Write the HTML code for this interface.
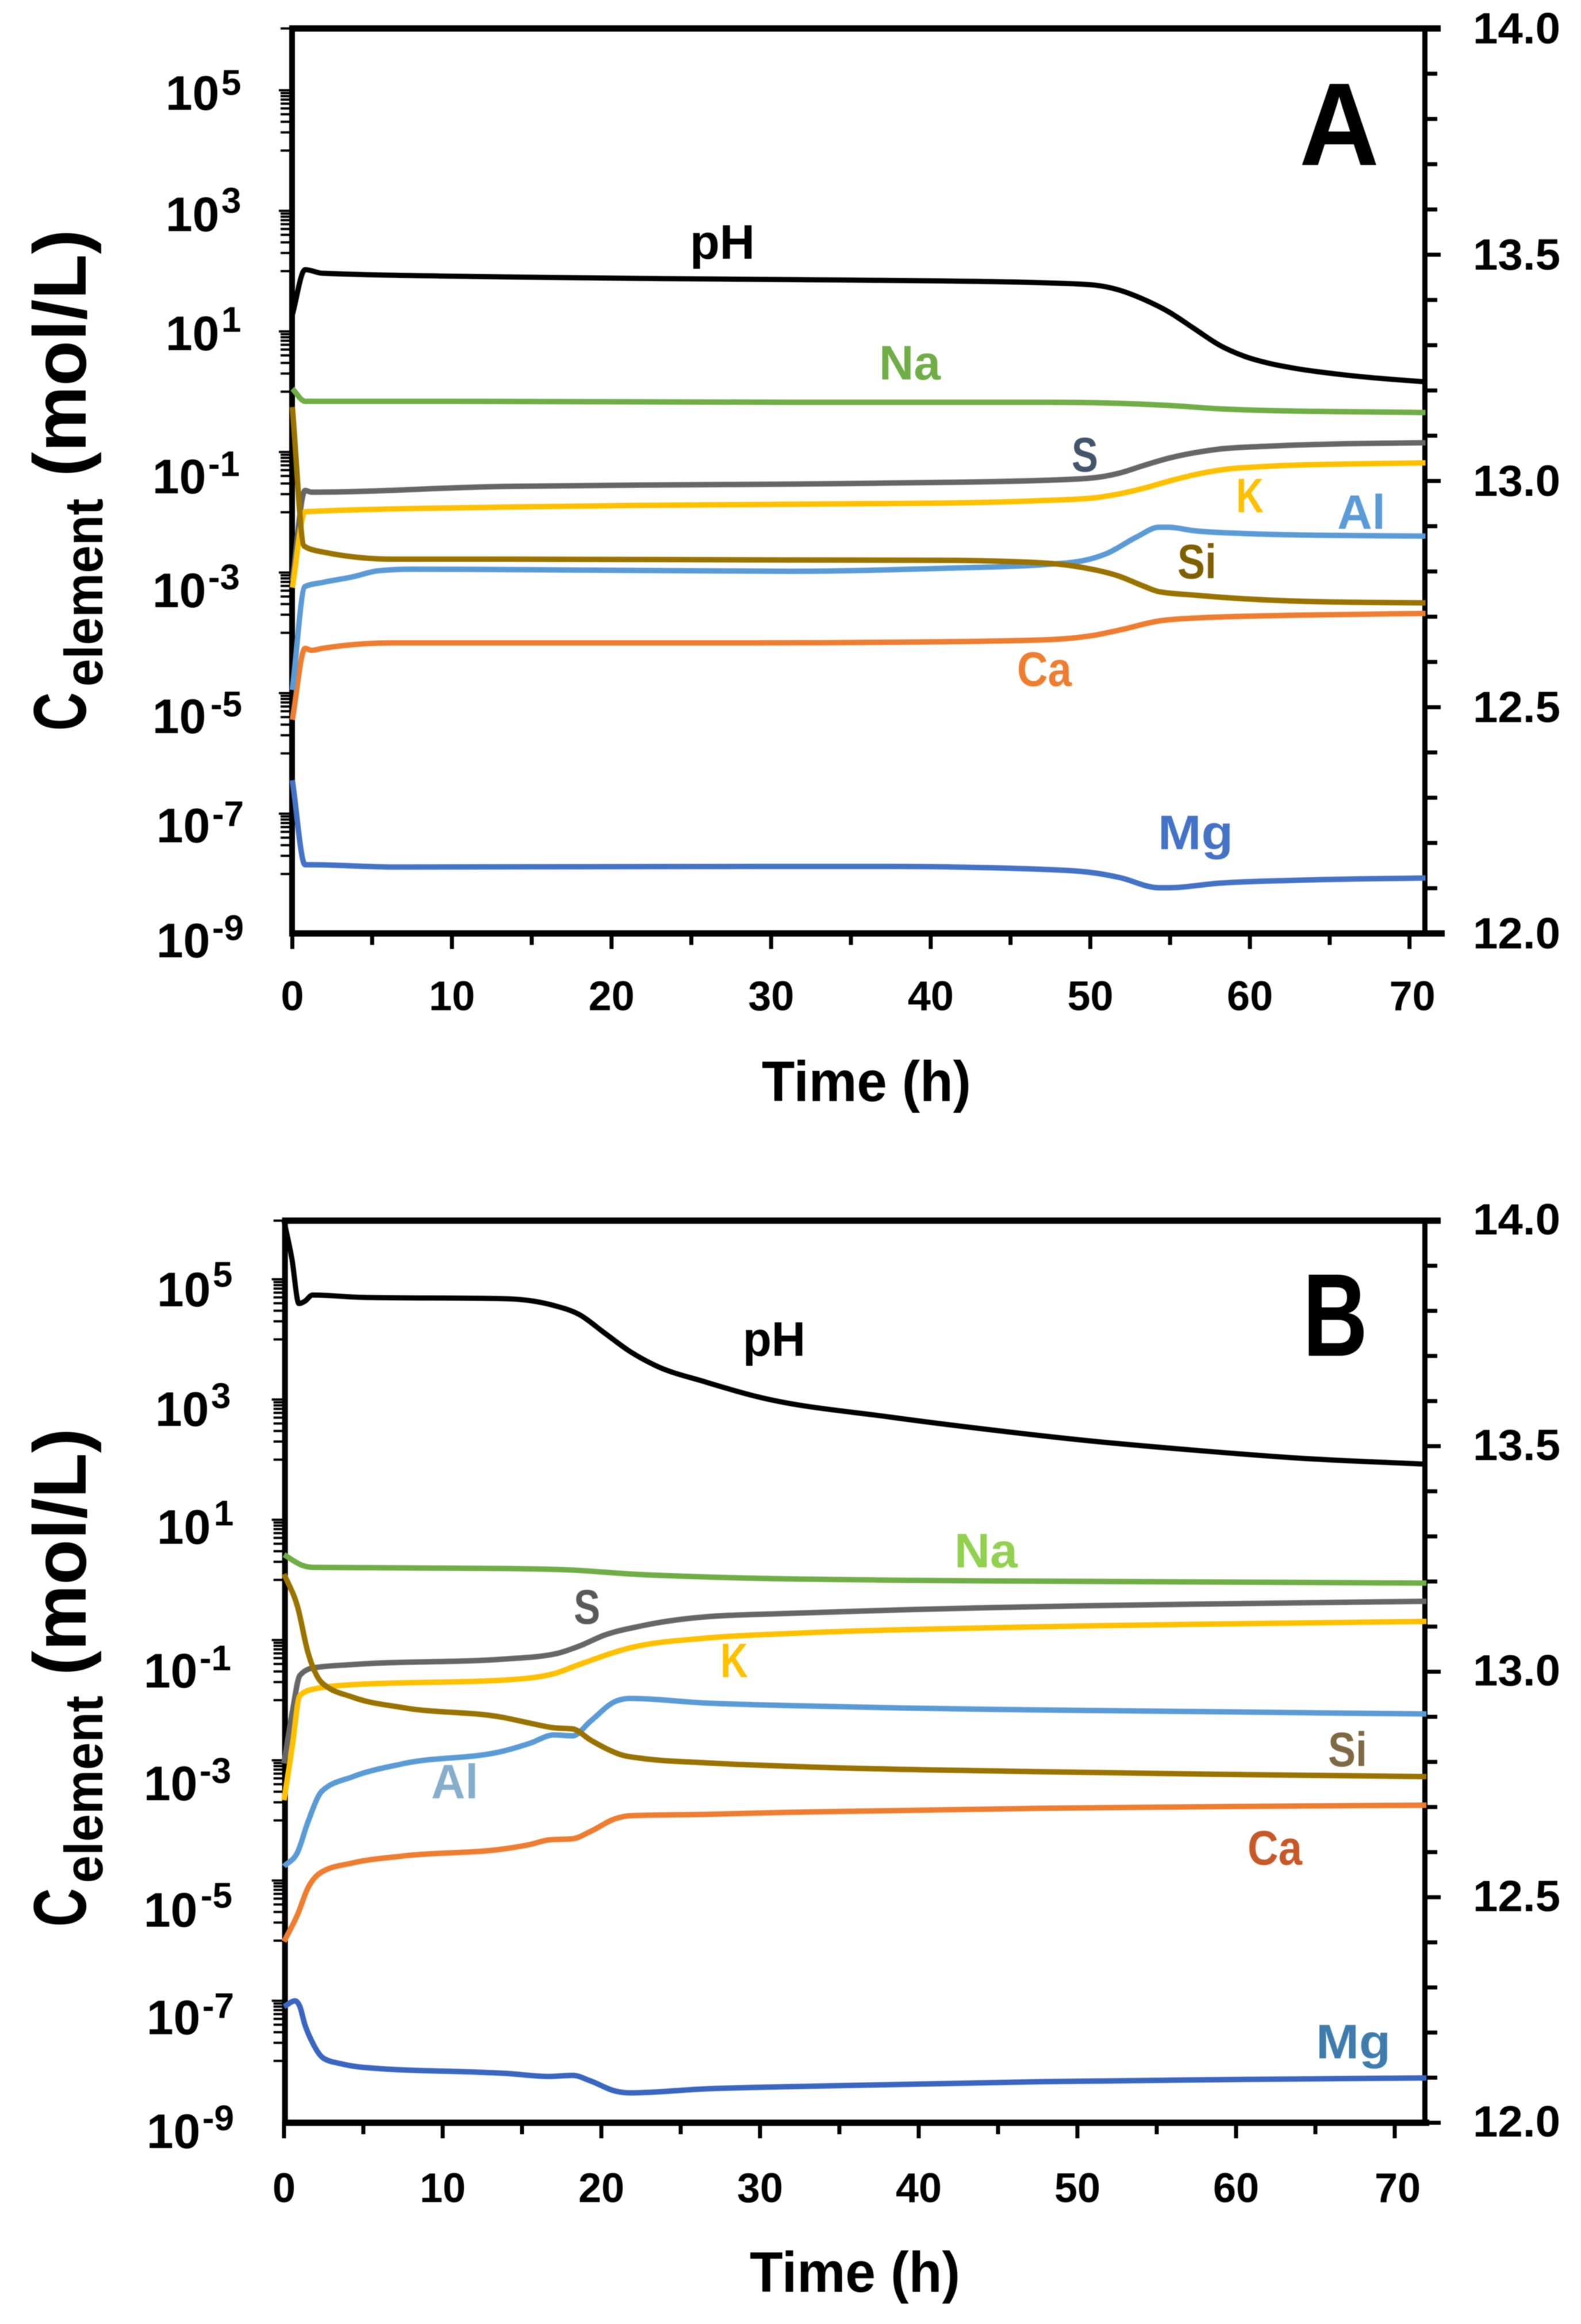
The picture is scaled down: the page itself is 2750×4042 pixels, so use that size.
<!DOCTYPE html>
<html lang="en">
<head>
<meta charset="utf-8">
<title>Element concentration and pH versus time</title>
<style>
html,body{margin:0;padding:0;background:#fff;}
svg{display:block;filter:blur(0.8px);}
text{font-family:"Liberation Sans",Arial,sans-serif;font-weight:700;fill:#000;}
.yt{font-size:84px;}
.ys{font-size:62px;}
.xt{font-size:72px;text-anchor:middle;}
.rt{font-size:76px;}
.at{font-size:99px;}
.sl{font-size:84px;}
.ti{font-size:130px;}
.sb{font-size:94px;}
.pl{font-size:205px;}
</style>
</head>
<body>
<svg id="chart" xmlns="http://www.w3.org/2000/svg" width="2750" height="4042" viewBox="0 0 2750 4042">
<rect x="0" y="0" width="2750" height="4042" fill="#fff"/>

<g id="panel-a"></g>
<g id="panel-b"></g>

<!-- Panel A text -->
<g>
  <g><text class="yt" x="288" y="191">10</text><text class="ys" x="385" y="165">5</text></g>
  <g><text class="yt" x="288" y="402">10</text><text class="ys" x="385" y="370">3</text></g>
  <g><text class="yt" x="288" y="609">10</text><text class="ys" x="385" y="577">1</text></g>
  <g><text class="yt" x="265" y="858">10</text><text class="ys" x="362" y="828">-1</text></g>
  <g><text class="yt" x="265" y="1056">10</text><text class="ys" x="362" y="1025">-3</text></g>
  <g><text class="yt" x="265" y="1275">10</text><text class="ys" x="366" y="1246">-5</text></g>
  <g><text class="yt" x="272" y="1465">10</text><text class="ys" x="369" y="1437">-7</text></g>
  <g><text class="yt" x="272" y="1665">10</text><text class="ys" x="369" y="1635">-9</text></g>
  <g>
    <text class="ti" transform="translate(149,1271) rotate(-90)" textLength="67" lengthAdjust="spacingAndGlyphs">C</text>
    <text class="sb" transform="translate(178,1194) rotate(-90)" textLength="327" lengthAdjust="spacingAndGlyphs">element</text>
    <text class="ti" transform="translate(149,829) rotate(-90)" textLength="430" lengthAdjust="spacingAndGlyphs">(mol/L)</text>
  </g>
  <text class="at" x="1325" y="1915" textLength="364" lengthAdjust="spacingAndGlyphs">Time (h)</text>
  <text class="pl" x="2260" y="287" textLength="139" lengthAdjust="spacingAndGlyphs">A</text>
  <text class="sl" x="1200" y="450" textLength="113" lengthAdjust="spacingAndGlyphs">pH</text>
  <text class="sl" style="fill:#70ad47" x="1529" y="660" textLength="107" lengthAdjust="spacingAndGlyphs">Na</text>
  <text class="sl" style="fill:#44546a" x="1864" y="820" textLength="46" lengthAdjust="spacingAndGlyphs">S</text>
  <text class="sl" style="fill:#ffc000" x="2150" y="891" textLength="48" lengthAdjust="spacingAndGlyphs">K</text>
  <text class="sl" style="fill:#5b9bd5" x="2326" y="920" textLength="84" lengthAdjust="spacingAndGlyphs">Al</text>
  <text class="sl" style="fill:#7f6000" x="2048" y="1006" textLength="68" lengthAdjust="spacingAndGlyphs">Si</text>
  <text class="sl" style="fill:#ed7d31" x="1769" y="1193" textLength="95" lengthAdjust="spacingAndGlyphs">Ca</text>
  <text class="sl" style="fill:#4472c4" x="2014" y="1477" textLength="131" lengthAdjust="spacingAndGlyphs">Mg</text>
</g>

<!-- Panel B text -->
<g>
  <g><text class="yt" x="273" y="2272">10</text><text class="ys" x="370" y="2238">5</text></g>
  <g><text class="yt" x="270" y="2480">10</text><text class="ys" x="367" y="2449">3</text></g>
  <g><text class="yt" x="273" y="2685">10</text><text class="ys" x="372" y="2653">1</text></g>
  <g><text class="yt" x="250" y="2935">10</text><text class="ys" x="347" y="2905">-1</text></g>
  <g><text class="yt" x="250" y="3131">10</text><text class="ys" x="347" y="3101">-3</text></g>
  <g><text class="yt" x="250" y="3351">10</text><text class="ys" x="349" y="3318">-5</text></g>
  <g><text class="yt" x="255" y="3538">10</text><text class="ys" x="352" y="3510">-7</text></g>
  <g><text class="yt" x="255" y="3736">10</text><text class="ys" x="352" y="3705">-9</text></g>
  <g>
    <text class="ti" transform="translate(149,3351) rotate(-90)" textLength="67" lengthAdjust="spacingAndGlyphs">C</text>
    <text class="sb" transform="translate(178,3275) rotate(-90)" textLength="326" lengthAdjust="spacingAndGlyphs">element</text>
    <text class="ti" transform="translate(149,2914) rotate(-90)" textLength="430" lengthAdjust="spacingAndGlyphs">(mol/L)</text>
  </g>
  <text class="at" x="1304" y="3986" textLength="366" lengthAdjust="spacingAndGlyphs">Time (h)</text>
  <text class="pl" x="2266" y="2358" textLength="113" lengthAdjust="spacingAndGlyphs">B</text>
  <text class="sl" x="1292" y="2358" textLength="109" lengthAdjust="spacingAndGlyphs">pH</text>
  <text class="sl" style="fill:#92d050" x="1660" y="2726" textLength="110" lengthAdjust="spacingAndGlyphs">Na</text>
  <text class="sl" style="fill:#595959" x="998" y="2824" textLength="46" lengthAdjust="spacingAndGlyphs">S</text>
  <text class="sl" style="fill:#ffc000" x="1253" y="2917" textLength="48" lengthAdjust="spacingAndGlyphs">K</text>
  <text class="sl" style="fill:#85aecb" x="750" y="3128" textLength="82" lengthAdjust="spacingAndGlyphs">Al</text>
  <text class="sl" style="fill:#7d6a45" x="2310" y="3072" textLength="68" lengthAdjust="spacingAndGlyphs">Si</text>
  <text class="sl" style="fill:#c55a28" x="2170" y="3243" textLength="95" lengthAdjust="spacingAndGlyphs">Ca</text>
  <text class="sl" style="fill:#3f7cac" x="2289" y="3580" textLength="130" lengthAdjust="spacingAndGlyphs">Mg</text>
</g>
</svg>

<script>
// ---- Tick values and labels ----
const xMajorTicks = [0, 10, 20, 30, 40, 50, 60, 70];
const xMinorTicks = [5, 15, 25, 35, 45, 55, 65];
const logMajorExponents = [5, 3, 1, -1, -3, -5, -7];
const logMinorMultiples = [10, 20, 30, 40, 50, 60, 70, 80, 90];
const phMajorTicks = [14, 13.5, 13, 12.5, 12];
const phMinorTicks = [13.9, 13.8, 13.7, 13.6, 13.4, 13.3, 13.2, 13.1, 12.9, 12.8, 12.7, 12.6, 12.4, 12.3, 12.2, 12.1];
const phTickLabels = ['14.0', '13.5', '13.0', '12.5', '12.0'];

// ---- Panel A: time (h); pH; log10 concentration (mol/L) ----
const aPhTime = [0, 0.8, 1.9, 13.3, 31.2, 40.7, 47, 50.2, 51.8, 53.3, 54.9, 56.5, 58.1, 59.7, 61.2, 62.8, 66, 69.1, 71];
const aPhValue = [13.367, 13.467, 13.459, 13.451, 13.445, 13.442, 13.438, 13.433, 13.422, 13.402, 13.374, 13.337, 13.3, 13.275, 13.26, 13.249, 13.234, 13.224, 13.219];
const aNaTime = [0, 0.8, 10, 31.2, 47, 51.8, 54.9, 58.1, 61.2, 71];
const aNaLog = [0.05, -0.16, -0.16, -0.175, -0.175, -0.193, -0.227, -0.284, -0.312, -0.346];
const aSTime = [0, 0.8, 1.2, 13.3, 31.2, 40.7, 47, 50.2, 51.8, 53.3, 54.9, 56.5, 58.1, 61.2, 66, 71];
const aSLog = [-3.135, -1.638, -1.667, -1.571, -1.533, -1.505, -1.471, -1.428, -1.352, -1.228, -1.104, -1.014, -0.951, -0.904, -0.863, -0.846];
const aKTime = [0, 0.8, 13.3, 31.2, 40.7, 47, 50.2, 51.8, 53.3, 54.9, 56.5, 58.1, 61.2, 66, 71];
const aKLog = [-3.25, -1.991, -1.914, -1.867, -1.848, -1.805, -1.762, -1.695, -1.605, -1.485, -1.38, -1.3, -1.237, -1.199, -1.18];
const aSiTime = [0, 0.75, 1.9, 6.3, 13.3, 31.2, 40.7, 47, 49.6, 51.8, 53.3, 54.3, 56.5, 59.7, 64.4, 71];
const aSiLog = [-0.255, -2.563, -2.659, -2.778, -2.778, -2.792, -2.797, -2.84, -2.92, -3.06, -3.221, -3.317, -3.374, -3.436, -3.484, -3.503];
const aAlTime = [0, 0.8, 1.9, 3.8, 5.4, 7.5, 13.3, 31.2, 40.7, 47, 49.6, 51, 52.9, 54.3, 54.9, 56.5, 59.7, 64.4, 71];
const aAlLog = [-4.948, -3.231, -3.164, -3.07, -2.97, -2.945, -2.95, -2.979, -2.93, -2.87, -2.80, -2.687, -2.411, -2.248, -2.248, -2.306, -2.353, -2.382, -2.395];
const aCaTime = [0, 0.8, 1.2, 1.9, 6.3, 29, 37.5, 47, 50.2, 51.8, 54.3, 56.5, 62.8, 71];
const aCaLog = [-5.443, -4.257, -4.289, -4.257, -4.166, -4.166, -4.156, -4.118, -4.042, -3.956, -3.803, -3.755, -3.708, -3.679];
const aMgTime = [0, 0.8, 1.2, 6.3, 29, 37.5, 47, 50.2, 51.8, 54.3, 54.9, 58.1, 62.8, 71];
const aMgLog = [-6.445, -7.847, -7.847, -7.885, -7.876, -7.876, -7.923, -7.98, -8.057, -8.228, -8.228, -8.152, -8.105, -8.066];

// ---- Panel B: time (h); pH; log10 concentration (mol/L) ----
const bPhTime = [0, 0.5, 0.94, 1.3, 1.8, 4.9, 13.9, 17, 18.6, 20.2, 21.8, 23.4, 26.6, 29.8, 38.3, 44.6, 51, 57.4, 63.7, 72];
const bPhValue = [14, 13.915, 13.816, 13.821, 13.835, 13.83, 13.827, 13.812, 13.792, 13.751, 13.71, 13.679, 13.642, 13.61, 13.564, 13.536, 13.511, 13.491, 13.474, 13.46];
const bNaTime = [0, 1.2, 1.8, 13.9, 18, 21.8, 29.8, 44.6, 72];
const bNaLog = [0.419, 0.238, 0.209, 0.19, 0.166, 0.099, 0.027, -0.017, -0.053];
const bSTime = [0, 0.54, 1, 1.8, 4.35, 13.9, 17, 18.6, 20.2, 22.5, 26.6, 31.9, 44.6, 57.4, 72];
const bSLog = [-3.052, -2.172, -1.589, -1.465, -1.407, -1.316, -1.235, -1.101, -0.919, -0.766, -0.613, -0.556, -0.46, -0.403, -0.355];
const bKTime = [0, 0.5, 1, 1.8, 4.35, 13.9, 17, 18.6, 21.8, 26.6, 31.9, 44.6, 57.4, 72];
const bKLog = [-3.664, -2.813, -1.924, -1.818, -1.742, -1.665, -1.56, -1.407, -1.13, -0.967, -0.891, -0.795, -0.738, -0.69];
const bSiTime = [0, 0.87, 1.5, 2.4, 4.35, 7.5, 13.9, 15.5, 17, 18.2, 19.3, 20.6, 21.2, 22.5, 26.6, 31.9, 47.8, 72];
const bSiLog = [0.099, -0.46, -1.197, -1.713, -1.952, -2.124, -2.292, -2.383, -2.459, -2.478, -2.66, -2.842, -2.905, -2.966, -3.042, -3.1, -3.191, -3.272];
const bAlTime = [0, 0.87, 1.5, 2.4, 4.35, 7.5, 13.9, 15.5, 17, 18.2, 19.3, 20.9, 21.8, 26.6, 31.9, 44.6, 57.4, 72];
const bAlLog = [-4.764, -4.521, -4.032, -3.511, -3.272, -3.057, -2.842, -2.717, -2.579, -2.593, -2.354, -2.019, -1.971, -2.048, -2.091, -2.153, -2.189, -2.23];
const bCaTime = [0, 0.87, 1.5, 2.4, 4.35, 7.5, 13.9, 15.5, 16.7, 18.2, 19.3, 20.9, 21.8, 26.6, 31.9, 47.8, 72];
const bCaLog = [-6.016, -5.557, -5.127, -4.855, -4.706, -4.592, -4.472, -4.4, -4.324, -4.305, -4.185, -3.97, -3.922, -3.899, -3.865, -3.798, -3.746];
const bMgTime = [0, 0.7, 1, 1.3, 1.8, 2.5, 3.7, 6.1, 12.2, 13.9, 16.7, 18.2, 19.3, 20.9, 21.8, 26.6, 31.9, 47.8, 72];
const bMgLog = [-7.097, -7.002, -7.097, -7.384, -7.699, -7.958, -8.053, -8.13, -8.187, -8.206, -8.259, -8.241, -8.331, -8.503, -8.532, -8.465, -8.427, -8.345, -8.283];

const SVG_NS = 'http://www.w3.org/2000/svg';

function smoothPath(pts) {
  const n = pts.length;
  const dx = [], m = [], tan = [];
  for (let i = 0; i < n - 1; i++) {
    dx[i] = pts[i + 1][0] - pts[i][0];
    m[i] = (pts[i + 1][1] - pts[i][1]) / dx[i];
  }
  tan[0] = m[0];
  tan[n - 1] = m[n - 2];
  for (let i = 1; i < n - 1; i++) {
    if (m[i - 1] * m[i] <= 0) {
      tan[i] = 0;
    } else {
      const p = (m[i - 1] * dx[i] + m[i] * dx[i - 1]) / (dx[i - 1] + dx[i]);
      tan[i] = Math.sign(p) * Math.min(Math.abs(p), 2 * Math.abs(m[i - 1]), 2 * Math.abs(m[i]));
    }
  }
  let d = 'M' + pts[0][0].toFixed(1) + ' ' + pts[0][1].toFixed(1);
  for (let i = 0; i < n - 1; i++) {
    const h = dx[i] / 3;
    d += 'C' + (pts[i][0] + h).toFixed(1) + ' ' + (pts[i][1] + tan[i] * h).toFixed(1) +
         ' ' + (pts[i + 1][0] - h).toFixed(1) + ' ' + (pts[i + 1][1] - tan[i + 1] * h).toFixed(1) +
         ' ' + pts[i + 1][0].toFixed(1) + ' ' + pts[i + 1][1].toFixed(1);
  }
  return d;
}

function drawBar(parent, name, x, y, w, h) {
  const r = document.createElementNS(SVG_NS, 'rect');
  
  
  r.setAttribute('x', x);
  r.setAttribute('y', y);
  r.setAttribute('width', w);
  r.setAttribute('height', h);
  r.setAttribute('fill', '#000');
  parent.appendChild(r);
}

function drawPanel(root, cfg, series) {
  const xOf = t => cfg.x0 + t * cfg.pxPerHour;
  const yLog = e => cfg.yLog5 + (5 - e) * cfg.pxPerDecade;
  const yPh = p => cfg.top + (14 - p) * (cfg.bottom - cfg.top) / 2;
  const tb = 4;

  // axis frame
  drawBar(root, 'left-axis-line', cfg.leftAxis - 5, cfg.top - 5.5, 10, cfg.bottom - cfg.top + 11);
  drawBar(root, 'right-axis-line', cfg.rightAxis - 4.5, cfg.top, 9, cfg.bottom - cfg.top);
  drawBar(root, 'top-axis-line', cfg.leftAxis - 4, cfg.top - 5.5, 2506 - cfg.leftAxis + 4, 11);
  drawBar(root, 'bottom-axis-line', cfg.leftAxis - 5, cfg.bottom - 5.5, cfg.bottomEnd - cfg.leftAxis + 5, 11);

  // left top tick
  drawBar(root, 'y-minor-tick', cfg.leftAxis - 20, cfg.top - tb / 2, 20, tb);

  // left log ticks
  logMajorExponents.forEach(e => {
    drawBar(root, 'y-major-tick', cfg.leftAxis - 23, yLog(e) - tb / 2, 23, tb);
    logMinorMultiples.forEach(k => {
      const v = (e - 2) + Math.log10(k);
      drawBar(root, 'y-minor-tick', cfg.leftAxis - 20, yLog(v) - tb / 2, 20, tb);
    });
  });

  // right pH ticks
  phMajorTicks.forEach((p, i) => {
    drawBar(root, 'ph-major-tick', cfg.rightAxis, yPh(p) - 3.5, 2506 - cfg.rightAxis, 7);
    const lab = document.createElementNS(SVG_NS, 'text');
    
    
    lab.setAttribute('class', 'rt');
    lab.setAttribute('x', 2562);
    lab.setAttribute('y', yPh(p) + cfg.phLabelOffset);
    lab.setAttribute('textLength', 152);
    lab.setAttribute('lengthAdjust', 'spacingAndGlyphs');
    lab.textContent = phTickLabels[i];
    root.appendChild(lab);
  });
  phMinorTicks.forEach(p => {
    drawBar(root, 'ph-minor-tick', cfg.rightAxis, yPh(p) - 3.5, 2500 - cfg.rightAxis, 7);
  });

  // x ticks
  xMajorTicks.forEach(t => {
    drawBar(root, 'x-major-tick', xOf(t) - 3.5, cfg.bottom, 7, 27);
    const lab = document.createElementNS(SVG_NS, 'text');
    
    
    lab.setAttribute('class', 'xt');
    lab.setAttribute('x', xOf(t) + (t === 70 ? 5 : 0));
    lab.setAttribute('y', cfg.xLabelBaseline);
    lab.textContent = String(t);
    root.appendChild(lab);
  });
  xMinorTicks.forEach(t => {
    drawBar(root, 'x-minor-tick', xOf(t) - 3.5, cfg.bottom, 7, 20);
  });

  // series
  series.forEach(s => {
    const pts = s.time.map((t, i) => [xOf(t), s.ph ? yPh(s.values[i]) : yLog(s.values[i])]);
    const line = document.createElementNS(SVG_NS, 'path');
    
    
    line.setAttribute('d', smoothPath(pts));
    line.setAttribute('fill', 'none');
    line.setAttribute('stroke', s.color);
    line.setAttribute('stroke-width', s.ph ? 9 : 9.5);
    line.setAttribute('stroke-linejoin', 'round');
    root.appendChild(line);
  });
}

drawPanel(document.getElementById('panel-a'), {
  x0: 508.5, pxPerHour: 27.76, leftAxis: 508, rightAxis: 2478.5, bottomEnd: 2513,
  top: 49.5, bottom: 1623.5, yLog5: 157, pxPerDecade: 104.85,
  xLabelBaseline: 1757, phLabelOffset: 26
}, [
  { name: 'mg', time: aMgTime, values: aMgLog, color: '#4472c4' },
  { name: 'ca', time: aCaTime, values: aCaLog, color: '#ed7d31' },
  { name: 'al', time: aAlTime, values: aAlLog, color: '#5b9bd5' },
  { name: 's', time: aSTime, values: aSLog, color: '#666666' },
  { name: 'k', time: aKTime, values: aKLog, color: '#ffc000' },
  { name: 'si', time: aSiTime, values: aSiLog, color: '#997300' },
  { name: 'na', time: aNaTime, values: aNaLog, color: '#70ad47' },
  { name: 'ph', time: aPhTime, values: aPhValue, color: '#000000', ph: true }
]);

drawPanel(document.getElementById('panel-b'), {
  x0: 494, pxPerHour: 27.6, leftAxis: 495.7, rightAxis: 2478.5, bottomEnd: 2486,
  top: 2123, bottom: 3692, yLog5: 2225, pxPerDecade: 104.57,
  xLabelBaseline: 3830, phLabelOffset: 24
}, [
  { name: 'mg', time: bMgTime, values: bMgLog, color: '#3a66c0' },
  { name: 'ca', time: bCaTime, values: bCaLog, color: '#ed7d31' },
  { name: 'al', time: bAlTime, values: bAlLog, color: '#5b9bd5' },
  { name: 's', time: bSTime, values: bSLog, color: '#666666' },
  { name: 'k', time: bKTime, values: bKLog, color: '#ffc000' },
  { name: 'si', time: bSiTime, values: bSiLog, color: '#997300' },
  { name: 'na', time: bNaTime, values: bNaLog, color: '#70ad47' },
  { name: 'ph', time: bPhTime, values: bPhValue, color: '#000000', ph: true }
]);
</script>
</body>
</html>
